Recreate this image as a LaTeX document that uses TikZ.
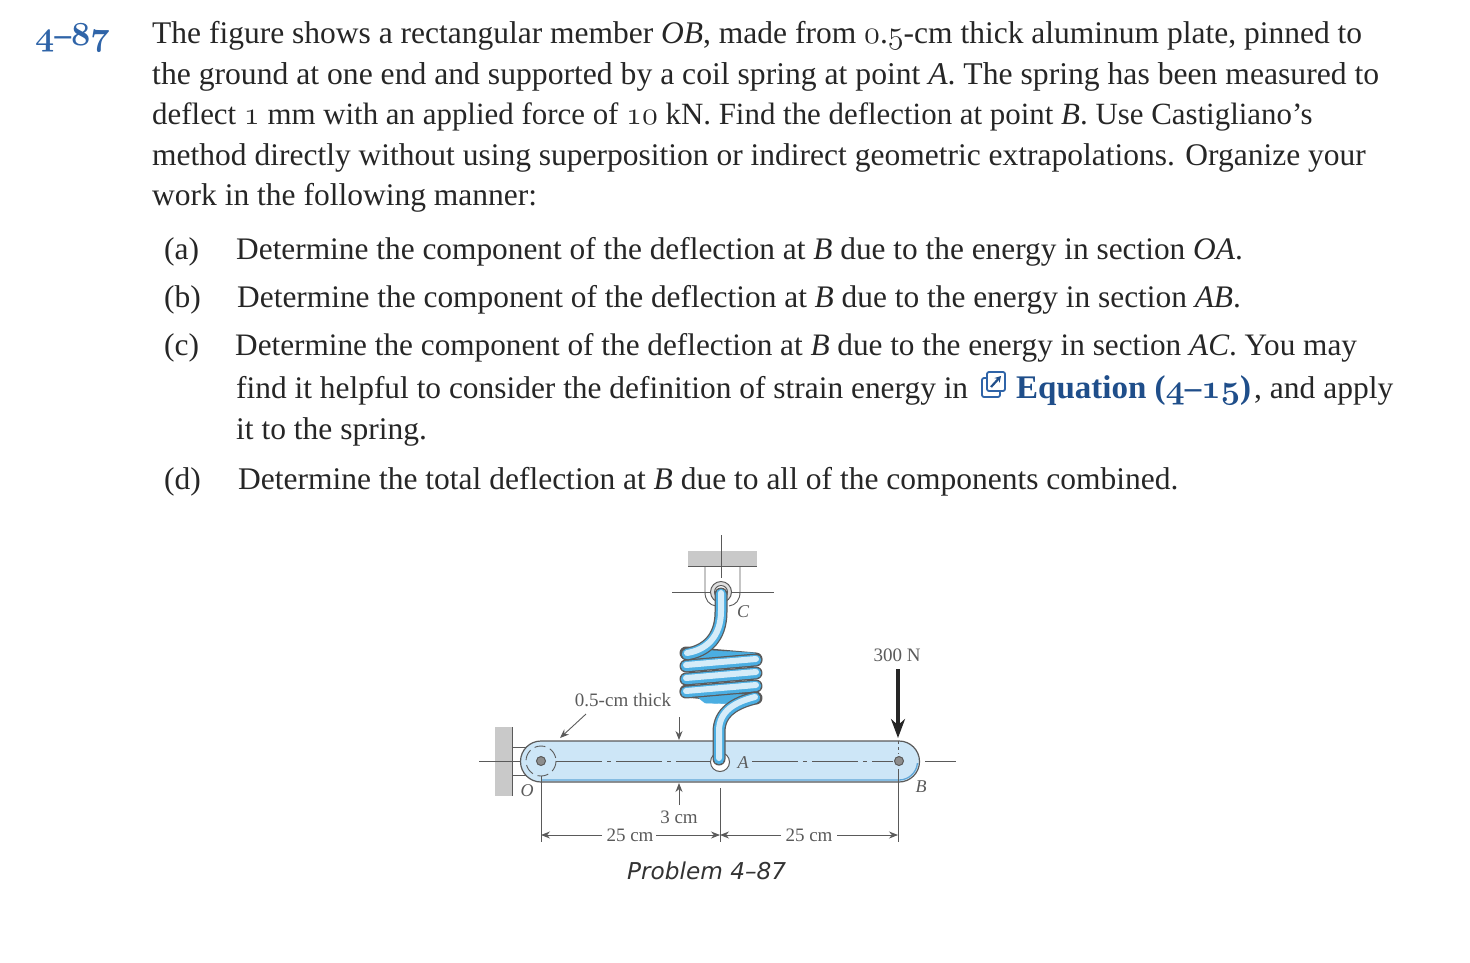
\documentclass[tikz,border=0pt]{standalone}
\usepackage{fontspec}
\setmainfont{Liberation Serif}
\newfontfamily\capfont{DejaVu Sans}
\usetikzlibrary{arrows.meta}
\definecolor{headblue}{HTML}{2F64A8}
\definecolor{linkblue}{HTML}{1F4E8A}
\definecolor{barblue}{HTML}{CDE6F7}
\definecolor{edgeblue}{HTML}{5FA6D8}
\definecolor{wireblue}{HTML}{4BAEE2}
\definecolor{wirepale}{HTML}{D5ECF9}
\definecolor{inkgray}{HTML}{5A5A5A}
\definecolor{wallgray}{HTML}{C9C9C9}
\newcommand{\onum}[1]{\scalebox{1.3}{\usefont{OML}{cmm}{m}{it}#1}}
\newcommand{\bnum}[1]{\scalebox{1.35}{\usefont{OML}{cmm}{b}{it}#1}}
\newcommand{\fs}[1]{\fontsize{#1}{36}\selectfont}
\newcommand{\wire}[1]{\draw[wireo] #1; \draw[wirem] #1; \draw[wireh, yshift=1pt] #1;}
\begin{document}
\begin{tikzpicture}[x=1pt,y=-1pt]
\tikzstyle{tx}=[draw=none, fill=none, inner sep=0pt, anchor=base west, text=black!85, font=\fs{31.5}]
\tikzstyle{dim}=[draw=none, fill=none, inner sep=0pt, text=inkgray, font=\fontsize{19}{22}\selectfont]
\tikzstyle{lbl}=[dim, font=\fontsize{18}{22}\selectfont\itshape]
\tikzstyle{thin}=[draw=inkgray, line width=0.9pt]
\tikzstyle{arr}=[thin, -{Stealth[length=9pt,width=7pt]}]
\tikzstyle{wireo}=[draw=inkgray, line width=13pt, line cap=round]
\tikzstyle{wirem}=[draw=wireblue, line width=10.5pt, line cap=round]
\tikzstyle{wireh}=[draw=wirepale, line width=6pt, line cap=round]
\useasboundingbox (0,0) rectangle (1470,962);

\node[tx, text=headblue, font=\fontsize{33}{36}\selectfont\bfseries] (head) at (35,45) {\bnum{4}--\bnum{87}};
\node[tx] (l1) at (152,43) {The figure shows a rectangular member \textit{OB}, made from \onum{0}.\onum{5}-cm thick aluminum plate, pinned to};
\node[tx, font=\fs{31.65}] (l2) at (152,84) {the ground at one end and supported by a coil spring at point \textit{A}. The spring has been measured to};
\node[tx, font=\fs{30.9}] (l3) at (152,124) {deflect \onum{1} mm with an applied force of \onum{10} kN. Find the deflection at point \textit{B}. Use Castigliano’s};
\node[tx] (l4) at (152,165) {method directly without using superposition or indirect geometric extrapolations. Organize your};
\node[tx] (l5) at (152,205) {work in the following manner:};
\node[tx] (pa) at (164,259) {(a)};
\node[tx, font=\fs{31.35}] (a1) at (236,259) {Determine the component of the deflection at \textit{B} due to the energy in section \textit{OA}.};
\node[tx] (pb) at (164,307) {(b)};
\node[tx, font=\fs{31.37}] (b1) at (237,307) {Determine the component of the deflection at \textit{B} due to the energy in section \textit{AB}.};
\node[tx] (pc) at (164,355) {(c)};
\node[tx, font=\fs{31.25}] (c1) at (235,355) {Determine the component of the deflection at \textit{B} due to the energy in section \textit{AC}. You may};
\node[tx, font=\fs{31.4}] (c2) at (236,398) {find it helpful to consider the definition of strain energy in};
\node[tx, text=linkblue, font=\fontsize{33}{36}\selectfont\bfseries] (eq) at (1016,398) {Equation (\bnum{4}--\bnum{15})};
\node[tx] (c2b) at (1254,398) {, and apply};
\node[tx] (c3) at (236,439) {it to the spring.};
\node[tx] (pd) at (164,489) {(d)};
\node[tx] (d1) at (238,489) {Determine the total deflection at \textit{B} due to all of the components combined.};

\draw[headblue, line width=1.8pt, rounded corners=2pt, fill=white] (982,378) rectangle (1000,397);
\draw[headblue, line width=1.8pt, rounded corners=2pt, fill=white] (987,372) rectangle (1005,391);
\draw[linkblue, line width=2.2pt, -{Stealth[length=6pt,width=7pt]}] (991,387) -- (1001,376);

\fill[wallgray] (495,727) rectangle (512,796);
\fill[wallgray] (688,551) rectangle (757,566);
\draw[thin] (512,727) -- (512,796);
\draw[thin] (688,566) -- (757,566);
\draw[thin] (512,747) -- (531,747);
\draw[thin] (512,775) -- (531,775);
\draw[thin] (479,761) -- (528,761);
\draw[thin] (721,535) -- (721,578);
\draw[thin] (672,592) -- (774,592);
\draw[thin] (705,566) -- (705,592) .. controls (705,600) and (709,605) .. (716,606);
\draw[thin] (740,566) -- (740,592) .. controls (740,600) and (736,605) .. (729,606);

\draw[draw=inkgray, line width=1.2pt, fill=barblue] (541,741) -- (899,741) arc (-90:90:20.5) -- (541,782) arc (90:270:20.5) -- cycle;
\draw[edgeblue, line width=1.3pt] (541,780) -- (899,780) arc (90:5:18.5);

\draw[thin, dash pattern=on 11pt off 5pt] (541,761) circle (15);
\draw[thin, dash pattern=on 46pt off 5pt on 4pt off 5pt] (556,761) -- (712,761);
\draw[thin, dash pattern=on 46pt off 5pt on 4pt off 5pt] (752,761) -- (893,761);
\draw[thin] (925,761) -- (956,761);
\draw[thin, dashed] (898,741) -- (898,754);
\draw[thin] (898,769) -- (898,842);
\draw[thin] (541,776) -- (541,842);
\draw[thin] (720,788) -- (720,842);

\node[draw=inkgray, line width=1pt, fill=wallgray!70!black, circle, inner sep=0pt, minimum size=9pt] (pinO) at (541,761) {};
\node[draw=inkgray, line width=1pt, fill=wallgray!70!black, circle, inner sep=0pt, minimum size=9pt] (pinB) at (899,761) {};
\node[draw=inkgray, line width=1pt, fill=white, circle, inner sep=0pt, minimum size=19pt] (pinA) at (720,762) {};
\node[draw=inkgray, line width=1pt, fill=wallgray!60!white, circle, inner sep=0pt, minimum size=21pt] (eyeC) at (721,592) {};
\node[draw=inkgray, line width=1pt, fill=white, circle, inner sep=0pt, minimum size=13pt] (eyeC2) at (721,592) {};

\draw[wireo] (686,653) -- (756,659);
\draw[wireo] (686,691) -- (756,698);
\draw[wireblue, fill=wireblue] (700,650) -- (755,653) -- (756,659) -- (690,660) -- cycle;
\draw[wireblue, fill=wireblue] (690,691) -- (750,695) -- (735,704) -- (705,703) -- cycle;
\wire{(686,666) -- (756,660)}
\wire{(686,679) -- (756,673)}
\wire{(686,692) -- (756,686)}
\wire{(721,594) -- (721,612) .. controls (721,638) and (706,651) .. (687,654)}
\wire{(719,759) -- (719,732) .. controls (719,712) and (735,703) .. (755,698)}

\node[dim] (thick) at (623,700) {0.5-cm thick};
\node[dim] (f300) at (897,655) {300 N};
\node[dim] (t3) at (679,817) {3 cm};
\node[dim] (dl) at (630,835) {25 cm};
\node[dim] (dr) at (809,835) {25 cm};
\node[lbl] (nO) at (527,791) {O};
\node[lbl] (nA) at (743,763) {A};
\node[lbl] (nB) at (921,787) {B};
\node[lbl] (nC) at (743,612) {C};
\node[draw=none, inner sep=0pt, anchor=base west, text=black!80, font=\fontsize{23.2}{26}\selectfont\capfont\itshape] (cap) at (627,879) {Problem 4–87};

\coordinate (thickE) at (560,738);
\coordinate (thickS) at (586,714);
\coordinate (topS) at (679,717);
\coordinate (topE) at (679,740);
\coordinate (botS) at (679,805);
\coordinate (botE) at (679,783);
\coordinate (fS) at (898,669);
\coordinate (fE) at (898,738);
\coordinate (dL) at (541,835);
\coordinate (dM) at (720,835);
\coordinate (dR) at (898,835);

\draw[arr] (thickS) -- (thickE);
\draw[arr] (topS) -- (topE);
\draw[arr] (botS) -- (botE);
\draw[draw=black!85, line width=4pt, -{Stealth[length=19pt,width=14pt]}] (fS) -- (fE);
\draw[arr] (dl) ++(-28,0) -- (dL);
\draw[arr] (dl) ++(26,0) -- (dM);
\draw[arr] (dr) ++(-28,0) -- (dM);
\draw[arr] (dr) ++(28,0) -- (dR);
\end{tikzpicture}
\end{document}
